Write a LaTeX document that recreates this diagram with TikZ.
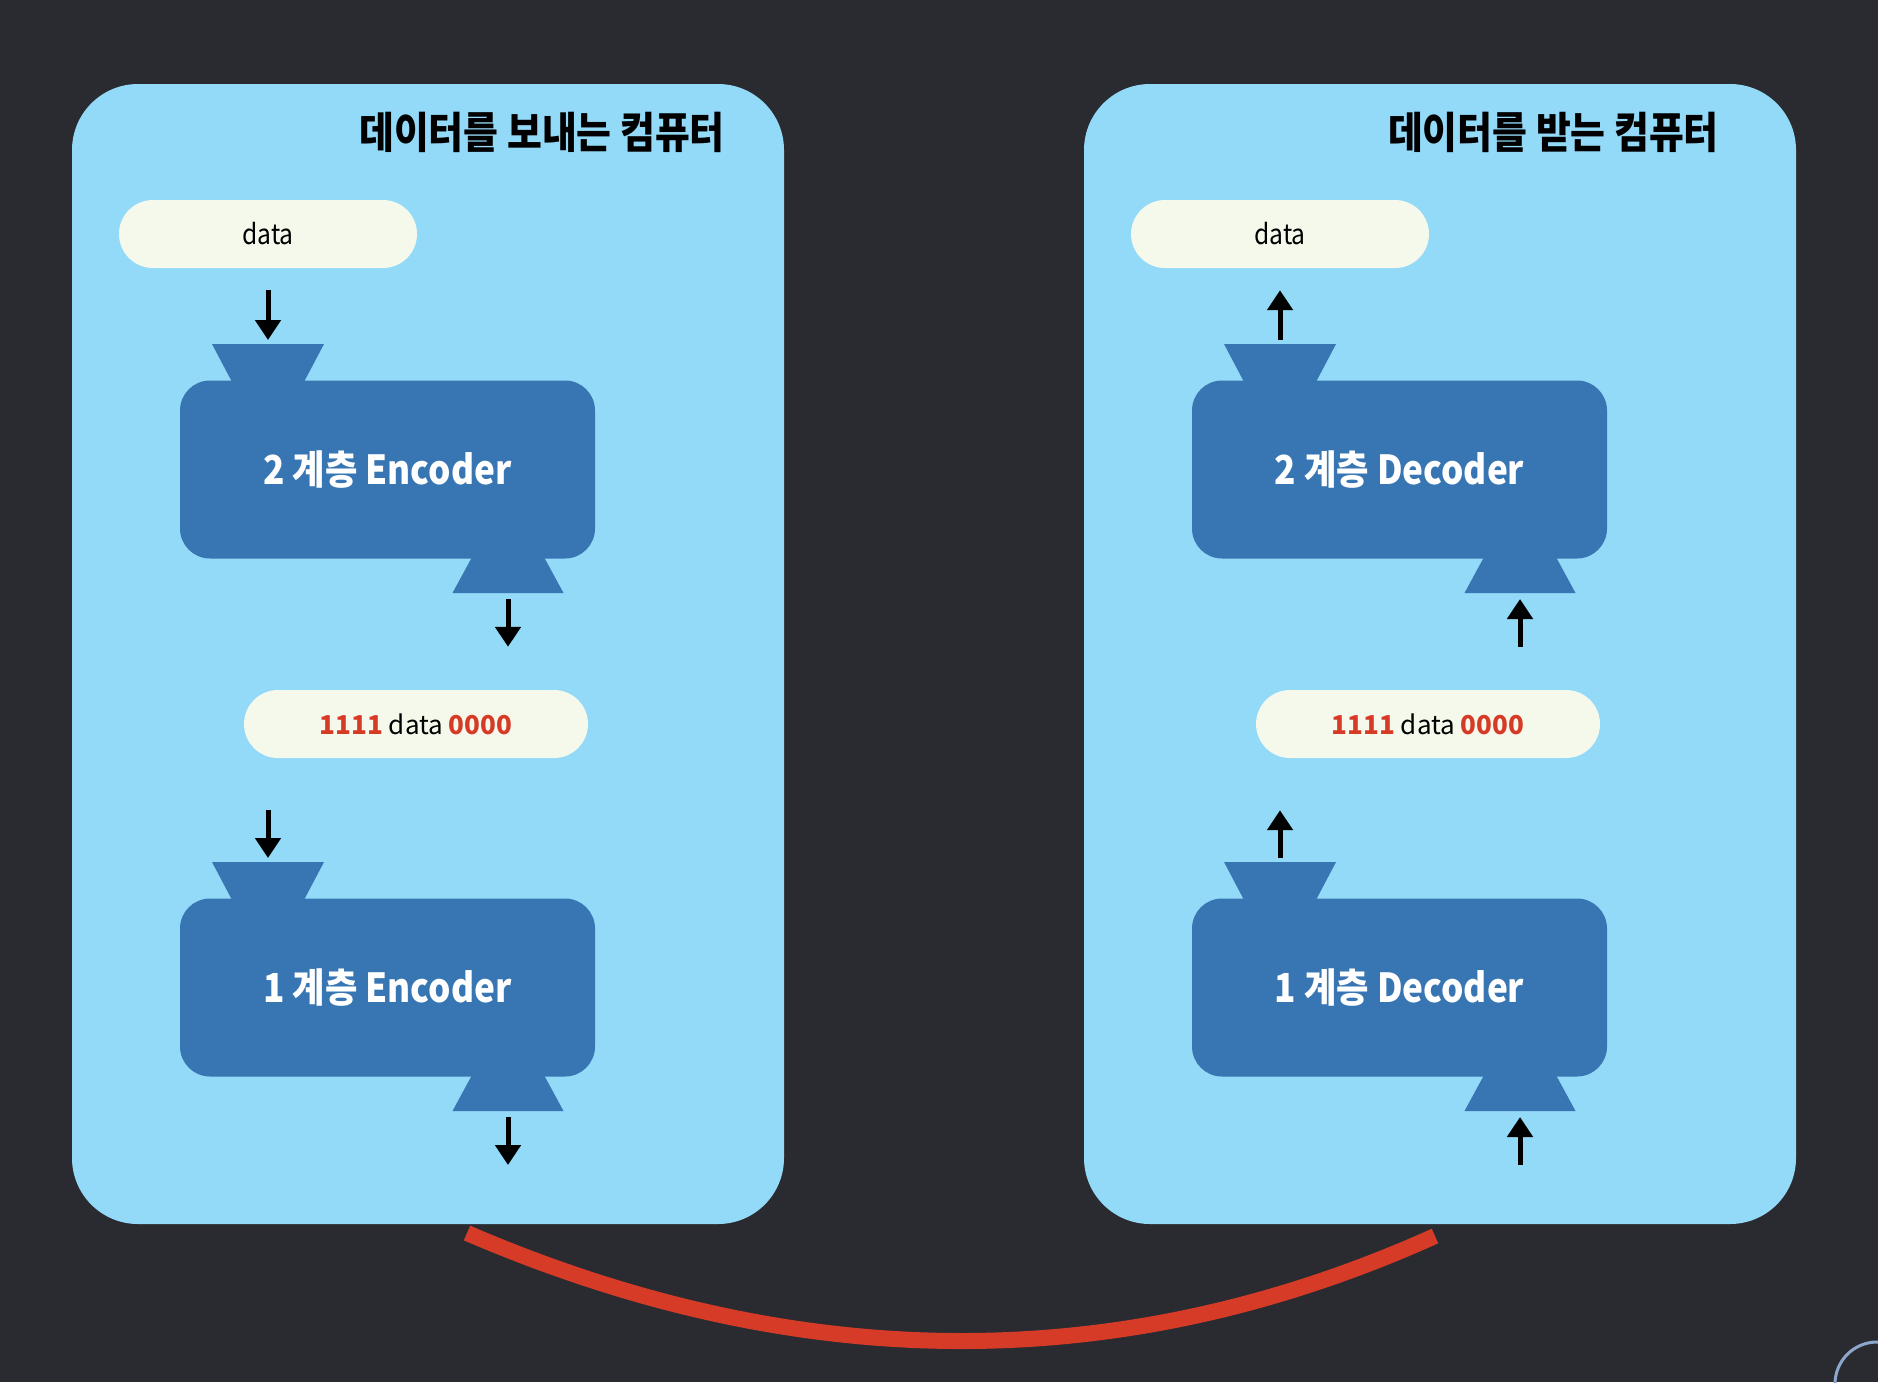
\documentclass[tikz,border=0pt]{standalone}
\usepackage{fontspec}
\newfontfamily\krfont[FakeStretch=0.88]{Noto Sans CJK KR}
\newfontfamily\krwide{Noto Sans CJK KR}
\usepackage{xcolor}
\definecolor{nightbg}{HTML}{2A2B30}
\definecolor{pcblue}{HTML}{93D9F8}
\definecolor{layerblue}{HTML}{3776B3}
\definecolor{pillcream}{HTML}{F5F9EB}
\definecolor{wirered}{HTML}{D63B27}
\definecolor{ringgrey}{HTML}{8DA6CC}
\usepackage{tikz}
\usetikzlibrary{positioning,arrows.meta,shapes.geometric,calc}

\begin{document}
\begin{tikzpicture}[x=1pt, y=-1pt,
      pc/.style={fill=pcblue, rounded corners=66pt, minimum width=712pt, minimum height=1140pt, inner sep=0pt},
      pctitle/.style={anchor=east, inner sep=0pt, font=\krfont\bfseries\fontsize{43}{50}\selectfont},
      pill/.style={fill=pillcream, rounded corners=34pt, minimum height=68pt, inner sep=0pt,
                   font=\krfont\fontsize{28}{34}\selectfont},
      layer/.style={fill=layerblue, rounded corners=30pt, minimum width=415pt, minimum height=178pt,
                    inner sep=0pt, text=white, font=\krfont\bfseries\fontsize{40}{48}\selectfont},
      funnel/.style={fill=layerblue},
      arr/.style={-{Triangle[width=25pt,length=20pt]}, line width=5pt, black},
      wire/.style={line width=16pt, wirered}]
    \fill[nightbg] (0,0) rectangle (1878,1382);
    \useasboundingbox (0,0) rectangle (1878,1382);

    \node[pc] (sendpc) at (428,654) {};
    \node[pctitle] (sendtitle) at (725,132) {데이터를 보내는 컴퓨터};
    \node[pill, minimum width=298pt] (senddata) at (268,234) {data};
    \coordinate (enc2in) at (268,344);
    \node[layer] (enc2) at (387.5,469.5) {2 계층 Encoder};
    \coordinate (enc2out) at (508,593);
    \node[pill, minimum width=344pt, font=\krwide\fontsize{26}{32}\selectfont] (sendframe) at (416,724)
      {{\color{wirered}\bfseries 1111} data {\color{wirered}\bfseries 0000}};
    \coordinate (enc1in) at (268,862);
    \node[layer] (enc1) at (387.5,987.5) {1 계층 Encoder};
    \coordinate (enc1out) at (508,1111);
    \coordinate (sendend) at (508,1165);
    \fill[funnel] (enc2in) ++(-56,0) -- ++(112,0) -- ++(-19.5,37) -- ++(-73,0) -- cycle;
    \fill[funnel] (enc2out) ++(-55.5,0) -- ++(111,0) -- ++(-19,-35) -- ++(-73,0) -- cycle;
    \fill[funnel] (enc1in) ++(-56,0) -- ++(112,0) -- ++(-19.5,37) -- ++(-73,0) -- cycle;
    \fill[funnel] (enc1out) ++(-55.5,0) -- ++(111,0) -- ++(-19,-35) -- ++(-73,0) -- cycle;
    \draw[arr, shorten <=22pt, shorten >=4pt] (senddata) -- (enc2in);
    \draw[arr, shorten <=6pt, shorten >=43pt] (enc2out) -- (enc2out |- sendframe.north);
    \draw[arr, shorten <=52pt, shorten >=4pt] (sendframe.south -| enc1in) -- (enc1in);
    \draw[arr, shorten <=6pt] (enc1out) -- (sendend);

    \node[pc] (recvpc) at (1440,654) {};
    \node[pctitle] (recvtitle) at (1719,132) {데이터를 받는 컴퓨터};
    \node[pill, minimum width=298pt] (recvdata) at (1280,234) {data};
    \coordinate (dec2in) at (1280,344);
    \node[layer] (dec2) at (1399.5,469.5) {2 계층 Decoder};
    \coordinate (dec2out) at (1520,593);
    \node[pill, minimum width=344pt, font=\krwide\fontsize{26}{32}\selectfont] (recvframe) at (1428,724)
      {{\color{wirered}\bfseries 1111} data {\color{wirered}\bfseries 0000}};
    \coordinate (dec1in) at (1280,862);
    \node[layer] (dec1) at (1399.5,987.5) {1 계층 Decoder};
    \coordinate (dec1out) at (1520,1111);
    \coordinate (recvstart) at (1520,1165);
    \fill[funnel] (dec2in) ++(-56,0) -- ++(112,0) -- ++(-19.5,37) -- ++(-73,0) -- cycle;
    \fill[funnel] (dec2out) ++(-55.5,0) -- ++(111,0) -- ++(-19,-35) -- ++(-73,0) -- cycle;
    \fill[funnel] (dec1in) ++(-56,0) -- ++(112,0) -- ++(-19.5,37) -- ++(-73,0) -- cycle;
    \fill[funnel] (dec1out) ++(-55.5,0) -- ++(111,0) -- ++(-19,-35) -- ++(-73,0) -- cycle;
    \draw[arr, shorten <=4pt, shorten >=22pt] (dec2in) -- (recvdata);
    \draw[arr, shorten <=43pt, shorten >=6pt] (dec2out |- recvframe.north) -- (dec2out);
    \draw[arr, shorten <=4pt, shorten >=52pt] (dec1in) -- (recvframe.south -| dec1in);
    \draw[arr, shorten >=6pt] (recvstart) -- (dec1out);

    \coordinate (wirea) at (467,1233);
    \coordinate (wireb) at (1435,1236);
    \draw[wire] (wirea) .. controls (799,1376) and (1122,1377) .. (wireb);
    \draw[ringgrey, line width=3pt] (1877,1384) circle (42);
  \end{tikzpicture}
\end{document}
